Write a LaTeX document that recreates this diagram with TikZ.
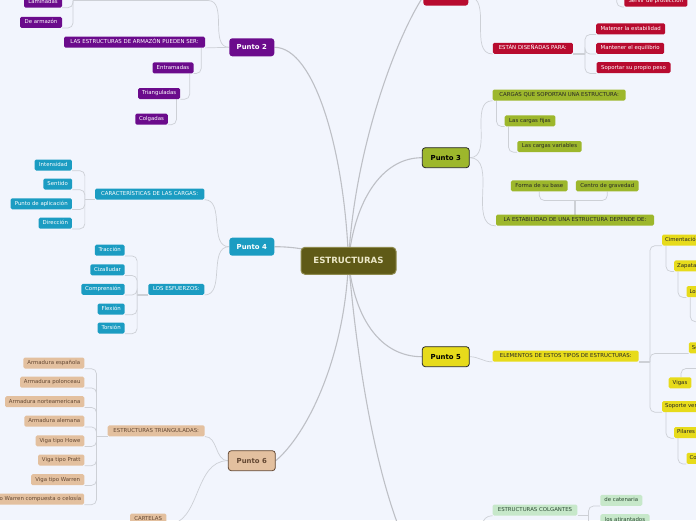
\documentclass[tikz,border=0pt]{standalone}
\usepackage{fontspec}
\setmainfont{DejaVu Sans}
\usetikzlibrary{positioning}

\definecolor{fondo}{HTML}{F2F5FD}
\definecolor{linea}{HTML}{CDD0D6}
\definecolor{lineaosc}{HTML}{BEC0C6}
\definecolor{oliva}{HTML}{5F5A17}
\definecolor{olivaclaro}{HTML}{8E8A4E}
\definecolor{crema}{HTML}{ECE8C8}
\definecolor{rojo}{HTML}{B80B2F}
\definecolor{morado}{HTML}{6B0B8C}
\definecolor{verde}{HTML}{9DB72C}
\definecolor{azul}{HTML}{1B9CC2}
\definecolor{amarillo}{HTML}{E7DB1B}
\definecolor{canela}{HTML}{E3C09F}
\definecolor{canelaosc}{HTML}{634732}
\definecolor{menta}{HTML}{C7E8CA}
\definecolor{mentaosc}{HTML}{2E4D35}

\pgfdeclarelayer{capafondo}
\pgfdeclarelayer{capalineas}
\pgfsetlayers{capafondo,capalineas,main}

\tikzset{
  caja/.style={rounded corners=1.5pt, inner xsep=1pt, inner ysep=0pt,
    minimum height=11pt, text height=3.9pt, text depth=1.1pt,
    font=\fontsize{5.4}{6}\selectfont},
  hojaR/.style={caja, fill=rojo, text=white},
  hojaM/.style={caja, fill=morado, text=white},
  hojaV/.style={caja, fill=verde, text=black!85},
  hojaA/.style={caja, fill=azul, text=white},
  hojaY/.style={caja, fill=amarillo, text=black!85},
  hojaC/.style={caja, fill=canela, text=canelaosc},
  hojaG/.style={caja, fill=menta, text=mentaosc},
  punto/.style={rounded corners=3pt, inner sep=0pt, minimum width=45pt,
    minimum height=18pt, font=\fontsize{6.9}{8}\selectfont\bfseries},
  rama/.style={draw=lineaosc, line width=1.1pt},
  sub/.style={draw=linea, line width=0.7pt},
  codo/.style={sub, rounded corners=5pt},
  tallo/.style={sub, line width=1.3pt},
}

\begin{document}
\begin{tikzpicture}[x=1pt,y=-1pt]
  \useasboundingbox (0,0) rectangle (696,520);
  \begin{pgfonlayer}{capafondo}
    \fill[fondo] (0,0) rectangle (696,520);
  \end{pgfonlayer}

  % centro
  \node[fill=oliva, draw=olivaclaro, line width=1pt, rounded corners=4pt,
    minimum width=95pt, minimum height=27pt, text=crema,
    font=\fontsize{8.6}{10}\selectfont\bfseries] (centro) at (348.5,260.8) {ESTRUCTURAS};

  % Punto 1 (rojo)
  \node[punto, fill=rojo] (p1) at (445.8,-3.3) {};
  \node[hojaR, minimum width=63pt] (serv) at (655.8,1.2) {Servir de protección};
  \node[hojaR, minimum width=80pt] (est) at (532.8,48.3) {ESTÁN DISEÑADAS PARA:};
  \node[hojaR, minimum width=69pt] (mat) at (630.7,28.8) {Matener la estabilidad};
  \node[hojaR, minimum width=68pt] (man) at (630.2,48.3) {Mantener el equilibrio};
  \node[hojaR, minimum width=74pt] (sop) at (633.5,67.7) {Soportar su propio peso};
  \coordinate (servp) at (616.7,-14);

  % Punto 2 (morado)
  \node[punto, fill=morado, text=white] (p2) at (251.8,47.3) {Punto 2};
  \node[hojaM, minimum width=38pt] (lam) at (43,2) {Laminadas};
  \node[hojaM, minimum width=42pt] (dear) at (41,22.3) {De armazón};
  \node[hojaM, minimum width=141pt] (arm) at (134.5,42.2) {LAS ESTRUCTURAS DE ARMAZÓN PUEDEN SER:};
  \node[hojaM, minimum width=41pt] (entr) at (173,67.8) {Entramadas};
  \node[hojaM, minimum width=42pt] (tria) at (159.2,93.5) {Trianguladas};
  \node[hojaM, minimum width=32.5pt] (colg) at (151.5,119) {Colgadas};
  \coordinate (tipE) at (208,0.5);
  \coordinate (tipW) at (73,0.5);

  % Punto 3 (verde)
  \node[punto, fill=verde, draw=black!85, line width=0.8pt, minimum width=47pt,
    minimum height=20pt] (p3) at (445.8,157.7) {Punto 3};
  \node[hojaV, minimum width=133pt] (cargas) at (559.2,95) {CARGAS QUE SOPORTAN UNA ESTRUCTURA:};
  \node[hojaV, minimum width=50.6pt] (fijas) at (530,120.8) {Las cargas fijas};
  \node[hojaV, minimum width=64.4pt] (varia) at (549.5,146.5) {Las cargas variables};
  \node[hojaV, minimum width=56.7pt] (forma) at (539.3,185.8) {Forma de su base};
  \node[hojaV, minimum width=62.7pt] (grav) at (607.3,185.8) {Centro de gravedad};
  \node[hojaV, minimum width=158pt] (estab) at (575,220.2) {LA ESTABILIDAD DE UNA ESTRUCTURA DEPENDE DE:};
  \coordinate (llave) at (575,200.5);

  % Punto 4 (azul)
  \node[punto, fill=azul, text=white] (p4) at (251.8,246.7) {Punto 4};
  \node[hojaA, minimum width=109.3pt] (carac) at (149.7,194) {CARACTERÍSTICAS DE LAS CARGAS:};
  \node[hojaA, minimum width=37.3pt] (inten) at (53.3,165) {Intensidad};
  \node[hojaA, minimum width=28.7pt] (sent) at (57.7,184) {Sentido};
  \node[hojaA, minimum width=61.3pt] (aplic) at (41.3,203.8) {Punto de aplicación};
  \node[hojaA, minimum width=33.3pt] (direc) at (55.3,223.2) {Dirección};
  \node[hojaA, minimum width=56pt] (esf) at (176.3,289.3) {LOS ESFUERZOS:};
  \node[hojaA, minimum width=29.7pt] (trac) at (109.8,250.2) {Tracción};
  \node[hojaA, minimum width=34.3pt] (ciz) at (107.5,269.8) {Cizalludar};
  \node[hojaA, minimum width=43.3pt] (compr) at (103,289.3) {Comprensión};
  \node[hojaA, minimum width=27pt] (flex) at (111.2,309) {Flexión};
  \node[hojaA, minimum width=27pt] (tors) at (111.2,328) {Torsión};

  % Punto 5 (amarillo)
  \node[punto, fill=amarillo, draw=black!85, line width=0.8pt, minimum width=47pt,
    minimum height=20pt] (p5) at (445.8,356.7) {Punto 5};
  \node[hojaY, minimum width=146pt] (elem) at (565.7,356.2) {ELEMENTOS DE ESTOS TIPOS DE ESTRUCTURAS:};
  \node[hojaY, anchor=west, inner xsep=3pt] (cim) at (662,240) {Cimentación};
  \node[hojaY, anchor=west, inner xsep=3pt] (zap) at (674,265.8) {Zapatas};
  \node[hojaY, anchor=west, inner xsep=3pt] (losa) at (686.3,291.7) {Losas};
  \node[hojaY, anchor=west, inner xsep=3pt] (soph) at (688.7,347.8) {Soporte horizontal};
  \node[hojaY, minimum width=22.6pt] (vigas) at (680,382.8) {Vigas};
  \node[hojaY, anchor=west, inner xsep=3pt] (sopv) at (662,406.5) {Soporte vertical};
  \node[hojaY, anchor=west, inner xsep=3pt] (pil) at (674,432.5) {Pilares};
  \node[hojaY, anchor=west, inner xsep=3pt] (colu) at (686.3,458.3) {Columnas};
  \coordinate (losah) at (712,321.7);
  \coordinate (vigah) at (712,368.5);

  % Punto 6 (canela)
  \node[punto, fill=canela, draw=canelaosc, line width=0.8pt, text=canelaosc,
    minimum width=47pt, minimum height=20pt] (p6) at (251.8,460.7) {Punto 6};
  \node[hojaC, minimum width=97pt] (trian) at (156.2,430.8) {ESTRUCTURAS TRIANGULADAS:};
  \node[hojaC, minimum width=61pt] (espa) at (53.8,363) {Armadura española};
  \node[hojaC, minimum width=64.3pt] (polo) at (52.2,382.2) {Armadura polonceau};
  \node[hojaC, minimum width=79.3pt] (nort) at (44.7,401.7) {Armadura norteamericana};
  \node[hojaC, minimum width=60pt] (alem) at (54.3,421.2) {Armadura alemana};
  \node[hojaC, minimum width=48.6pt] (howe) at (60,440.8) {Viga tipo Howe};
  \node[hojaC, minimum width=46.3pt] (pratt) at (61.2,460) {Viga tipo Pratt};
  \node[hojaC, minimum width=53.3pt] (warr) at (57.7,479.7) {Viga tipo Warren};
  \node[hojaC, anchor=east, inner xsep=3pt] (celo) at (84.3,499) {Viga tipo Warren compuesta o celosía};
  \node[hojaC, minimum width=36.3pt] (cart) at (148.2,519) {CARTELAS};

  % Punto 7 (menta)
  \node[punto, minimum width=47pt, minimum height=20pt] (p7) at (446,575) {};
  \node[hojaG, minimum width=84.6pt] (colgan) at (535,510) {ESTRUCTURAS COLGANTES};
  \node[hojaG, minimum width=42pt] (cate) at (621.3,500.3) {de catenaria};
  \node[hojaG, minimum width=49.4pt] (atir) at (625,519.7) {los atirantados};

  \begin{pgfonlayer}{capalineas}
    % ramas principales
    \draw[rama] (centro.center) .. controls +(6,-111) and +(-28,43) .. (p1.west);
    \draw[rama] (centro.center) .. controls +(-4,-110) and +(40,0) .. (p2.east);
    \draw[rama] (centro.center) .. controls +(6,-60) and +(-40,0) .. (p3.west);
    \draw[rama] (centro.center) to[out=165,in=0] (p4.east);
    \draw[rama] (centro.center) .. controls +(6,60) and +(-40,0) .. (p5.west);
    \draw[rama] (centro.center) .. controls +(-4,100) and +(30,-25) .. (p6.east);
    \draw[rama] (centro.center) .. controls +(10,120) and +(-40,-60) .. (p7.west);

    % Punto 1
    \draw[sub] (p1.east) to[out=0,in=180] (est.south west);
    \draw[codo] (servp) |- (serv.south west);
    \draw[tallo] (est.south east) -- ++(12,0) coordinate (j1);
    \draw[codo] (j1) |- (mat.south west);
    \draw[codo] (j1) |- (man.south west);
    \draw[codo] (j1) |- (sop.south west);

    % Punto 2
    \draw[sub] (p2.west) to[out=180,in=0] (tipE) -- (tipW);
    \draw[codo] (tipW) |- (lam.south east);
    \draw[codo] (tipW) |- (dear.south east);
    \draw[sub] (p2.west) -- (arm.south east);
    \draw[codo] ([xshift=-4pt]arm.south east) |- (entr.south east);
    \draw[codo] ([xshift=-4pt]entr.south east) |- (tria.south east);
    \draw[codo] ([xshift=-4pt]tria.south east) |- (colg.south east);

    % Punto 3
    \draw[sub] (p3.east) to[out=0,in=180] (cargas.south west);
    \draw[sub] (p3.east) to[out=0,in=180] (estab.south west);
    \draw[codo] ([xshift=4pt]cargas.south west) |- (fijas.south west);
    \draw[codo] ([xshift=4pt]fijas.south west) |- (varia.south west);
    \draw[codo] (forma.south) |- (llave) -| (grav.south);
    \draw[tallo] (llave) -- (estab.north);

    % Punto 4
    \draw[sub] (p4.west) to[out=180,in=0] (carac.south east);
    \draw[sub] (p4.west) to[out=180,in=0] (esf.south east);
    \draw[tallo] (carac.south west) -- ++(-10,0) coordinate (j4a);
    \draw[codo] (j4a) |- (inten.south east);
    \draw[codo] (j4a) |- (sent.south east);
    \draw[codo] (j4a) |- (aplic.south east);
    \draw[codo] (j4a) |- (direc.south east);
    \draw[tallo] (esf.south west) -- ++(-11,0) coordinate (j4b);
    \draw[codo] (j4b) |- (trac.south east);
    \draw[codo] (j4b) |- (ciz.south east);
    \draw[codo] (j4b) |- (compr.south east);
    \draw[codo] (j4b) |- (flex.south east);
    \draw[codo] (j4b) |- (tors.south east);

    % Punto 5
    \draw[sub] (p5.east) to[out=0,in=180] (elem.south west);
    \draw[tallo] (elem.south east) -- ++(11,0) coordinate (j5);
    \draw[codo] (j5) |- (cim.south west);
    \draw[codo] (j5) |- (soph.south west);
    \draw[codo] (j5) |- (sopv.south west);
    \draw[codo] ([xshift=4pt]cim.south west) |- (zap.south west);
    \draw[codo] ([xshift=4pt]zap.south west) |- (losa.south west);
    \draw[codo] ([xshift=4pt]losa.south west) |- (losah);
    \draw[codo] ([xshift=1pt]vigas.north) |- (vigah);
    \draw[codo] ([xshift=4pt]sopv.south west) |- (pil.south west);
    \draw[codo] ([xshift=4pt]pil.south west) |- (colu.south west);

    % Punto 6
    \draw[sub] (p6.west) to[out=180,in=0] (trian.south east);
    \draw[sub] (p6.west) to[out=180,in=0] (cart.south east);
    \draw[tallo] (trian.south west) -- ++(-11,0) coordinate (j6);
    \foreach \h in {espa,polo,nort,alem,howe,pratt,warr,celo}
      \draw[codo] (j6) |- (\h.south east);

    % Punto 7
    \draw[sub] (p7.east) to[out=0,in=180] (colgan.south west);
    \draw[tallo] (colgan.south east) -- ++(11,0) coordinate (j7);
    \draw[codo] (j7) |- (cate.south west);
    \draw[codo] (j7) |- (atir.south west);
  \end{pgfonlayer}
\end{tikzpicture}
\end{document}
